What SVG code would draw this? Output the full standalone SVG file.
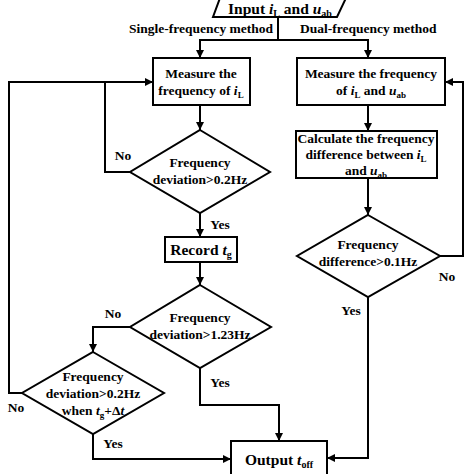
<svg xmlns="http://www.w3.org/2000/svg" width="474" height="474" viewBox="0 0 474 474">
<defs>
<marker id="arr" markerUnits="userSpaceOnUse" markerWidth="9" markerHeight="8" refX="8" refY="4" orient="auto">
<path d="M0,0 L8,4 L0,8 z" fill="#000"/>
</marker>
<style>
.s{fill:#fff;stroke:#000;stroke-width:2}
.c{fill:none;stroke:#000;stroke-width:2;marker-end:url(#arr)}
.l{fill:none;stroke:#000;stroke-width:2}
text{font-family:"Liberation Serif","Times New Roman",serif;font-weight:bold;font-size:13.5px;fill:#000}
.m{text-anchor:middle}
.b{font-size:15.5px}
.i{font-style:italic}
.sb{font-size:9px}
.sb2{font-size:10px}
</style>
</defs>
<rect width="474" height="474" fill="#fff"/>
<g id="connectors">
<polyline class="l" points="278,17 278,40"/>
<polyline class="c" points="278,40 200,40 200,58"/>
<polyline class="c" points="278,40 368,40 368,58"/>
<polyline class="c" points="200,105 200,130"/>
<polyline class="c" points="130,172 105,172 105,82 153,82"/>
<polyline class="l" points="22,393 9,393 9,82 105,82"/>
<polyline class="c" points="200,213 200,237"/>
<polyline class="c" points="200,262 200,285"/>
<polyline class="c" points="130,327 93,327 93,352"/>
<polyline class="c" points="200,368 200,405 279,405 279,441"/>
<polyline class="c" points="93,434 93,459 231,459"/>
<polyline class="c" points="368,105 368,131"/>
<polyline class="c" points="368,178 368,215"/>
<polyline class="c" points="440,256 463,256 463,82 445,82"/>
<polyline class="c" points="368,297 368,458 327,458"/>
</g>
<g id="labels">
<text x="129" y="33">Single-frequency method</text>
<text x="300" y="33">Dual-frequency method</text>
<text x="123" y="160" class="m">No</text>
<text x="220" y="229" class="m">Yes</text>
<text x="113" y="318" class="m">No</text>
<text x="220" y="387" class="m">Yes</text>
<text x="16" y="412" class="m">No</text>
<text x="113" y="448" class="m">Yes</text>
<text x="447" y="281" class="m">No</text>
<text x="351" y="315" class="m">Yes</text>
</g>
<g id="input">
<polygon class="s" points="220,-2 346,-2 337,17 213,17"/>
<text x="280" y="14" class="m b">Input <tspan class="i">i</tspan><tspan class="sb2" dy="3">L</tspan><tspan dy="-3"> and </tspan><tspan class="i">u</tspan><tspan class="sb2" dy="3">ab</tspan></text>
</g>
<g id="measure1">
<rect class="s" x="153" y="58" width="97" height="47"/>
<text x="201" y="78" class="m">Measure the</text>
<text x="201" y="95" class="m">frequency of <tspan class="i">i</tspan><tspan class="sb" dy="3">L</tspan></text>
</g>
<g id="measure2">
<rect class="s" x="297" y="58" width="148" height="47"/>
<text x="371" y="78" class="m">Measure the frequency</text>
<text x="371" y="95" class="m">of <tspan class="i">i</tspan><tspan class="sb" dy="3">L</tspan><tspan dy="-3"> and </tspan><tspan class="i">u</tspan><tspan class="sb" dy="3">ab</tspan></text>
</g>
<g id="dev1">
<polygon class="s" points="200,130 270,172 200,213 130,172"/>
<text x="200" y="167" class="m">Frequency</text>
<text x="200" y="184" class="m">deviation&gt;0.2Hz</text>
</g>
<g id="record">
<rect class="s" x="165" y="237" width="72" height="25"/>
<text x="201" y="255" class="m b">Record <tspan class="i">t</tspan><tspan class="sb2" dy="3">g</tspan></text>
</g>
<g id="dev2">
<polygon class="s" points="200,285 271,327 200,368 130,327"/>
<text x="200" y="322" class="m">Frequency</text>
<text x="200" y="339" class="m">deviation&gt;1.23Hz</text>
</g>
<g id="dev3">
<polygon class="s" points="93,352 164,393 93,434 22,393"/>
<text x="93" y="381" class="m">Frequency</text>
<text x="93" y="398" class="m">deviation&gt;0.2Hz</text>
<text x="93" y="415" class="m">when <tspan class="i">t</tspan><tspan class="sb" dy="3">g</tspan><tspan dy="-3">+Δ</tspan><tspan class="i">t</tspan></text>
</g>
<g id="calc">
<rect class="s" x="296" y="131" width="141" height="47"/>
<text x="366" y="143" class="m">Calculate the frequency</text>
<text x="366" y="159" class="m">difference between <tspan class="i">i</tspan><tspan class="sb" dy="3">L</tspan></text>
<text x="366" y="175" class="m">and <tspan class="i">u</tspan><tspan class="sb" dy="3">ab</tspan></text>
</g>
<g id="diff">
<polygon class="s" points="368,215 440,256 368,297 297,256"/>
<text x="368" y="249" class="m">Frequency</text>
<text x="368" y="266" class="m">difference&gt;0.1Hz</text>
</g>
<g id="output">
<rect class="s" x="231" y="441" width="96" height="40"/>
<text x="279" y="465" class="m b">Output <tspan class="i">t</tspan><tspan class="sb2" dy="3">off</tspan></text>
</g>
</svg>
